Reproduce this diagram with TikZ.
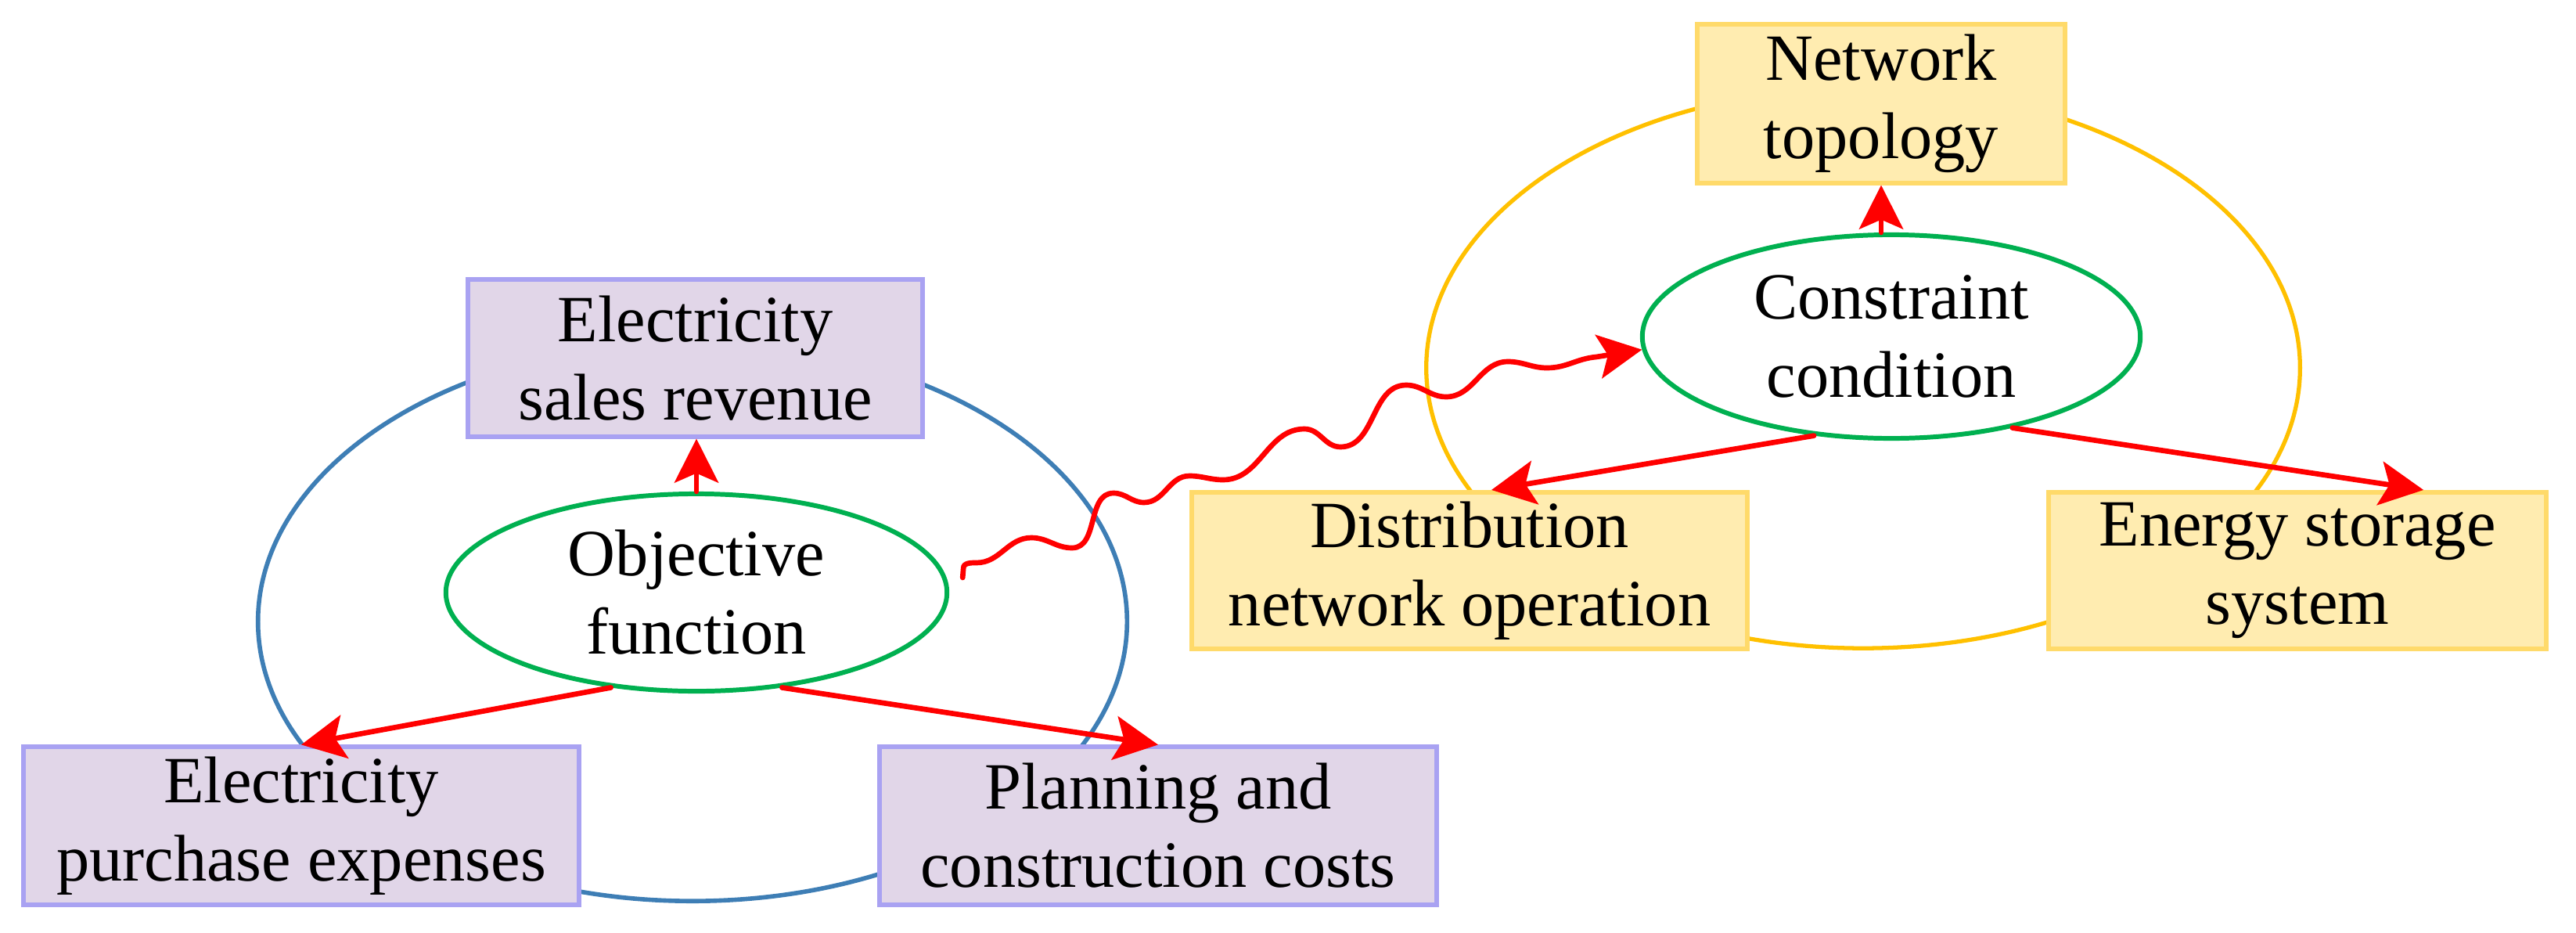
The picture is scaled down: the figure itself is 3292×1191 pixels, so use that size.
\documentclass[tikz,border=0pt]{standalone}
\usepackage{fontspec}
\setmainfont{Liberation Serif}
\usetikzlibrary{arrows.meta,shapes.geometric}
\definecolor{pfill}{HTML}{E1D6E8}
\definecolor{pborder}{HTML}{A9A2F2}
\definecolor{yfill}{HTML}{FFECB0}
\definecolor{yborder}{HTML}{FFDA6A}
\definecolor{yloop}{HTML}{FFC000}
\definecolor{bloop}{HTML}{3E7EB5}
\definecolor{ggreen}{HTML}{00B050}
\definecolor{rred}{HTML}{FF0000}
\begin{document}
\begin{tikzpicture}[x=0.01cm,y=-0.01cm,
  txt/.style={align=center, font=\fontsize{24}{28.5}\selectfont, inner sep=0pt},
  pbox/.style={txt, draw=pborder, fill=pfill, line width=1.7pt},
  ybox/.style={txt, draw=yborder, fill=yfill, line width=1.7pt},
  goal/.style={txt, ellipse, draw=ggreen, fill=white, line width=1.7pt},
  rarrow/.style={draw=rred, line width=1.9pt, line cap=round, -{Stealth[length=0.56cm, width=0.56cm, inset=0.12cm]}},
  ]
\useasboundingbox (0,0) rectangle (3292,1191);
% loops
\draw[bloop, line width=1.6pt] (885,794) ellipse [x radius=5.55cm, y radius=3.57cm];
\draw[yloop, line width=1.5pt] (2381,470) ellipse [x radius=5.58cm, y radius=3.58cm];
% nodes
\node[pbox, minimum width=5.80cm, minimum height=2.00cm] (sales) at (888.5,457.5) {Electricity\\sales revenue};
\node[pbox, minimum width=7.10cm, minimum height=2.01cm] (purchase) at (385,1055) {Electricity\\purchase expenses};
\node[pbox, minimum width=7.12cm, minimum height=2.01cm] (planning) at (1480,1055) {Planning and\\construction costs};
\node[goal, minimum width=6.40cm, minimum height=2.52cm] (obj) at (890,757) {Objective\\function};
\node[ybox, minimum width=4.70cm, minimum height=2.02cm] (network) at (2404,132.5) {Network\\topology};
\node[goal, minimum width=6.36cm, minimum height=2.60cm] (cc) at (2417,430) {Constraint\\condition};
\node[ybox, minimum width=7.10cm, minimum height=2.00cm] (dist) at (1878,729) {Distribution\\network operation};
\node[ybox, minimum width=6.36cm, minimum height=2.00cm] (energy) at (2936,729) {Energy storage\\system};
% arrows
\draw[rarrow] (obj.north) -- (obj.north |- sales.south);
\draw[rarrow] (obj.228) -- (purchase.north);
\draw[rarrow] (obj.312) -- (planning.north);
\draw[rarrow] (cc.north -| network.south) -- (network.south);
\draw[rarrow] (cc.232) -- ([xshift=0.28cm]dist.north);
\draw[rarrow] (cc.323) -- ([xshift=1.61cm]energy.north);
\coordinate (wstart) at ([shift={(17,-19)}]obj.east);
\draw[rarrow] (wstart) -- ++(1,-12) to[out=90,in=180] (1248,719)
  to[out=0,in=180] (1318,687) to[out=0,in=180] (1370,700)
  to[out=0,in=180] (1423,630) to[out=0,in=180] (1462,642)
  to[out=0,in=180] (1520,608) to[out=0,in=180] (1563,613)
  to[out=0,in=180] (1667,548) to[out=0,in=180] (1713,571)
  to[out=0,in=180] (1797,492) to[out=0,in=180] (1848,507)
  to[out=0,in=180] (1927,462) to[out=0,in=180] (1977,470)
  to[out=0,in=185] (2040,456) -- (cc.183);
\end{tikzpicture}
\end{document}
